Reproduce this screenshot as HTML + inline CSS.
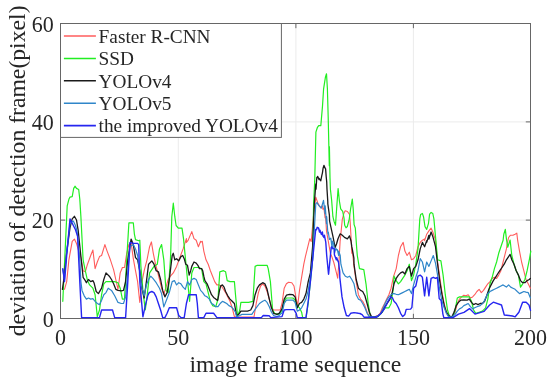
<!DOCTYPE html>
<html><head><meta charset="utf-8"><style>
html,body{margin:0;padding:0;background:#fff;}
svg{display:block;filter:blur(0.3px);font-family:"Liberation Serif","Times New Roman",serif;}
</style></head><body>
<svg width="550" height="382" viewBox="0 0 550 382">
<defs><clipPath id="ax"><rect x="59.0" y="22.0" width="473.00" height="298.00"/></clipPath></defs>
<g stroke="#EBEBEB" stroke-width="1" fill="none"><line x1="178.30" y1="23.5" x2="178.30" y2="318.5"/><line x1="295.90" y1="23.5" x2="295.90" y2="318.5"/><line x1="413.40" y1="23.5" x2="413.40" y2="318.5"/><line x1="60.5" y1="220.10" x2="530.5" y2="220.10"/><line x1="60.5" y1="121.90" x2="530.5" y2="121.90"/></g>
<g stroke="#666" stroke-width="1" fill="none"><line x1="60.50" y1="318.5" x2="60.50" y2="313.8"/><line x1="60.50" y1="23.5" x2="60.50" y2="28.2"/><line x1="178.30" y1="318.5" x2="178.30" y2="313.8"/><line x1="178.30" y1="23.5" x2="178.30" y2="28.2"/><line x1="295.90" y1="318.5" x2="295.90" y2="313.8"/><line x1="295.90" y1="23.5" x2="295.90" y2="28.2"/><line x1="413.40" y1="318.5" x2="413.40" y2="313.8"/><line x1="413.40" y1="23.5" x2="413.40" y2="28.2"/><line x1="530.50" y1="318.5" x2="530.50" y2="313.8"/><line x1="530.50" y1="23.5" x2="530.50" y2="28.2"/><line x1="60.5" y1="318.50" x2="65.2" y2="318.50"/><line x1="530.5" y1="318.50" x2="525.8" y2="318.50"/><line x1="60.5" y1="220.10" x2="65.2" y2="220.10"/><line x1="530.5" y1="220.10" x2="525.8" y2="220.10"/><line x1="60.5" y1="121.90" x2="65.2" y2="121.90"/><line x1="530.5" y1="121.90" x2="525.8" y2="121.90"/><line x1="60.5" y1="23.50" x2="65.2" y2="23.50"/><line x1="530.5" y1="23.50" x2="525.8" y2="23.50"/><rect x="60.5" y="23.5" width="470.00" height="295.00"/></g>
<g clip-path="url(#ax)" fill="none" stroke-linejoin="round" stroke-linecap="round"><polyline points="62.8,289.3 64.5,289.3 66.7,281.6 68.9,259.8 72.2,241.3 74.4,239.1 76.5,243.4 78.7,251.1 80.9,257.6 83.1,270.7 85.3,271.8 87.5,264.2 90.7,255.5 92.9,250.0 95.1,268.6 97.3,262.0 99.5,256.6 101.6,255.5 104.9,244.6 107.1,251.1 110.4,259.8 113.6,269.6 115.8,279.5 118.0,289.3 120.2,272.9 122.4,267.5 124.5,267.5 126.7,253.3 128.9,244.6 131.1,242.4 133.3,258.7 135.5,270.7 137.6,281.6 139.8,302.4 142.0,281.6 144.2,270.7 147.0,259.8 149.6,246.7 151.4,241.9 153.3,253.3 155.5,264.2 157.3,270.7 159.5,279.5 161.6,288.2 163.8,294.7 166.0,287.1 168.2,279.5 170.4,276.2 173.3,272.9 176.6,266.4 179.8,257.6 183.1,248.9 186.4,238.6 186.4,242.4 187.9,240.7 188.6,239.1 191.8,231.6 194.0,238.6 196.2,240.2 198.4,246.7 200.6,241.2 200.6,242.4 202.3,241.3 203.8,251.1 206.0,259.8 208.2,264.2 210.4,270.7 212.6,276.2 214.7,281.6 216.9,284.9 219.1,284.9 221.3,286.0 223.5,289.3 225.6,292.6 227.8,296.9 230.0,301.3 232.2,307.8 234.4,316.6 236.6,317.0 254.0,317.0 256.2,303.5 258.4,292.6 260.6,286.0 262.7,283.8 264.9,286.0 267.1,291.5 269.3,299.1 271.5,307.8 273.6,310.0 276.9,310.0 280.2,310.0 282.0,303.5 284.2,288.2 286.4,283.8 288.6,282.3 291.8,282.7 294.0,286.0 296.2,299.1 297.7,305.6 299.5,290.4 301.6,277.3 303.8,264.2 305.4,256.6 309.8,238.7 311.2,241.5 312.6,226.0 313.6,214.6 315.8,197.1 318.0,203.6 320.2,206.9 320.8,207.9 322.4,205.8 322.9,209.3 323.9,208.0 325.1,217.9 325.6,216.7 326.5,230.9 330.5,254.0 331.8,256.6 333.8,262.5 335.8,270.4 337.7,278.2 339.0,261.2 340.1,241.6 342.3,219.4 343.8,213.6 345.2,210.8 347.4,211.5 349.5,214.3 350.2,222.3 351.0,236.7 351.8,253.3 352.4,251.0 354.0,266.4 356.2,281.6 358.4,294.7 360.6,299.1 362.7,301.3 364.9,305.6 367.1,312.2 369.3,316.6 373.6,317.0 378.0,315.5 380.2,313.3 382.4,307.8 384.6,303.5 386.7,299.1 388.9,294.7 391.1,288.2 393.3,277.3 394.0,275.1 396.2,268.6 398.4,255.5 400.6,246.7 403.2,242.4 404.9,251.1 407.1,255.5 409.3,252.2 411.5,259.8 413.6,258.7 415.8,255.5 418.0,246.7 420.2,242.4 422.4,240.2 424.6,239.1 424.6,240.7 426.7,234.2 428.9,230.9 431.1,228.1 432.8,232.0 435.5,240.2 437.6,262.0 439.8,277.3 442.0,292.6 444.2,303.5 446.4,312.2 448.6,316.6 451.8,317.0 455.1,312.2 457.3,303.5 459.5,299.1 461.6,296.9 463.8,295.2 466.0,295.8 468.2,294.7 470.4,298.0 472.6,296.9 474.7,294.7 476.9,291.5 479.1,289.3 481.3,292.6 483.5,290.4 485.6,287.1 487.8,283.8 490.0,281.6 492.2,278.4 494.4,277.3 496.6,278.4 498.7,275.1 500.9,270.7 503.1,262.0 506.4,248.9 507.5,242.4 508.6,237.5 510.3,235.3 512.9,235.3 515.1,234.2 516.8,233.1 517.7,240.7 519.5,251.1 521.6,262.0 523.8,270.7 526.0,279.5 528.2,283.8 530.4,288.2" stroke="#FF5C5C" stroke-width="1.1"/><polyline points="62.8,301.3 67.2,205.8 68.9,199.3 70.0,197.1 72.2,196.7 73.7,188.4 75.0,186.2 76.5,188.4 78.7,189.5 79.8,199.3 80.9,216.7 83.1,259.8 85.3,270.7 87.5,280.6 89.6,284.9 92.9,288.2 95.1,294.7 97.3,316.6 99.5,310.0 101.6,294.7 103.8,283.8 106.0,281.6 110.4,281.6 114.7,281.6 118.0,282.7 120.2,288.2 122.4,299.1 124.5,299.1 126.7,259.8 128.9,222.8 133.3,222.8 134.4,234.2 135.5,239.6 138.7,240.7 139.8,240.2 140.9,266.4 143.1,292.6 145.3,310.0 147.5,292.6 149.6,272.9 154.0,266.4 157.3,264.2 159.5,248.9 161.6,244.6 163.8,259.8 166.0,290.4 168.2,292.6 170.4,259.8 170.7,253.3 171.8,216.7 173.3,203.2 174.8,216.7 176.1,225.5 178.3,228.1 182.0,228.1 183.5,238.6 189.6,301.3 191.8,272.9 194.0,267.5 198.4,267.5 201.6,268.6 203.8,281.6 206.0,283.8 208.2,292.6 210.4,301.3 212.6,305.6 215.8,306.7 218.0,299.1 219.8,271.8 223.5,270.7 225.6,271.8 227.2,280.6 230.0,281.6 234.4,281.6 235.5,294.7 237.6,316.6 239.8,310.0 240.9,302.4 244.2,302.4 248.6,302.4 252.9,301.3 255.1,266.4 257.3,265.3 261.6,265.3 267.1,265.3 268.2,268.6 270.4,281.6 272.6,310.0 274.7,313.3 278.0,314.4 280.2,313.3 282.0,310.0 284.2,301.3 286.4,298.0 292.9,298.0 295.1,300.2 297.3,305.6 299.5,307.8 301.6,312.2 302.7,317.6 306.0,317.6 308.2,303.5 310.4,281.6 312.6,259.8 313.6,203.6 314.7,181.4 315.9,132.1 317.3,127.7 318.7,125.7 320.8,125.7 322.5,106.1 323.6,88.8 325.4,77.3 326.5,73.8 327.4,88.8 328.2,117.6 329.3,165.7 329.4,146.5 330.0,177.5 330.4,189.2 331.6,199.7 332.9,216.7 334.2,221.9 335.5,225.2 336.8,206.2 338.1,188.5 339.4,201.0 340.7,208.8 342.7,211.4 344.0,218.0 344.7,225.2 346.0,227.8 347.3,226.5 349.2,219.3 350.6,208.8 352.3,199.0 353.2,208.8 354.1,224.6 355.3,228.0 356.7,248.2 357.3,255.5 359.5,268.6 363.8,269.6 366.0,283.8 368.2,303.5 370.4,316.6 373.6,317.0 378.0,316.6 382.4,312.2 384.6,307.8 388.9,307.8 391.1,303.5 393.3,288.2 394.0,276.2 396.2,280.6 398.4,283.8 400.6,281.6 402.7,278.4 404.9,275.1 407.1,270.7 409.3,264.2 411.5,280.6 413.6,275.1 415.8,264.2 418.0,248.9 419.8,218.9 420.6,214.6 422.4,213.5 423.5,216.7 425.0,226.6 426.7,229.4 428.5,223.3 429.6,214.1 431.1,212.4 432.8,213.5 433.9,218.9 437.6,259.8 440.9,260.9 443.1,275.1 445.3,294.7 447.5,310.0 449.6,316.6 452.9,317.0 455.1,310.0 457.3,298.0 459.5,296.9 463.8,296.9 469.3,296.9 471.5,301.3 473.6,310.0 475.8,313.3 479.1,312.2 482.4,311.1 485.6,307.8 487.8,299.1 490.0,283.8 492.2,277.3 494.4,268.6 496.6,262.0 498.7,253.3 500.9,246.7 503.1,240.2 503.8,234.2 505.3,229.4 506.4,238.6 507.7,247.2 510.1,240.0 511.8,255.5 514.0,264.2 516.2,270.7 518.4,275.1 520.5,287.1 522.7,283.8 524.9,279.5 527.1,270.7 529.3,259.8 530.8,251.1" stroke="#22EE22" stroke-width="1.2"/><polyline points="62.4,289.3 64.1,277.3 66.3,255.5 70.0,227.6 72.2,218.9 74.4,216.3 76.5,220.0 78.1,229.8 83.1,277.3 85.3,280.6 86.4,282.7 88.5,279.5 90.7,281.6 92.9,280.6 94.0,282.7 96.2,291.5 98.4,293.6 101.6,288.2 103.8,279.5 106.0,272.9 109.3,276.2 111.5,279.5 113.6,283.8 115.8,289.3 118.0,290.4 121.3,290.8 123.5,290.4 125.6,281.6 127.8,259.8 131.1,239.1 133.3,244.6 135.5,257.6 137.6,259.8 139.8,270.7 142.0,288.2 144.2,298.0 146.4,281.6 148.6,264.2 151.8,260.9 154.0,264.2 156.2,270.7 158.4,271.8 160.6,279.5 162.7,290.4 164.9,296.9 167.1,292.6 169.3,279.5 172.2,255.5 173.3,253.3 174.8,259.8 176.6,258.7 178.7,260.9 180.9,256.6 182.7,255.5 184.2,258.7 185.7,264.2 187.5,265.3 189.2,275.1 190.7,270.7 191.8,266.4 194.0,262.0 196.2,263.1 197.9,265.3 199.5,268.6 201.6,268.6 202.7,270.7 203.8,276.2 204.9,280.6 207.1,283.8 209.3,289.3 211.5,294.7 213.6,297.4 215.8,299.1 217.6,300.4 218.7,295.2 219.3,291.5 220.6,286.0 222.4,284.9 224.1,287.1 225.6,291.5 227.8,295.8 230.0,299.1 232.2,301.3 234.4,303.5 236.6,315.5 238.7,314.4 240.9,311.1 244.2,311.1 247.5,311.1 250.7,310.0 252.9,305.6 255.1,294.7 257.3,288.2 259.5,284.9 262.7,282.7 264.9,283.8 267.1,289.3 269.3,299.1 271.5,307.8 273.6,313.3 276.9,314.4 279.1,313.3 281.3,310.0 282.0,308.9 284.2,299.1 286.4,295.2 289.6,294.3 292.9,294.7 295.1,296.9 297.3,307.8 299.5,303.5 301.6,302.4 303.8,299.1 306.0,293.6 308.2,281.6 310.4,272.9 311.5,259.8 312.6,246.7 314.3,203.6 315.8,184.0 316.0,189.2 316.8,177.5 317.4,177.5 317.6,176.4 319.1,179.6 319.1,178.3 320.7,180.6 320.8,180.7 321.9,175.1 322.4,173.1 323.1,168.1 323.9,165.4 324.1,165.7 325.4,168.8 325.6,168.7 326.2,176.7 326.7,181.8 327.0,189.2 327.8,201.8 327.8,203.6 329.4,215.1 329.6,221.1 330.8,226.6 333.0,236.7 335.1,247.4 336.6,243.8 338.0,238.8 340.2,233.8 342.3,235.2 344.5,237.4 347.4,238.8 349.5,235.9 351.0,241.0 351.8,246.7 352.4,249.6 353.9,258.2 354.0,264.2 356.2,279.5 358.4,288.2 360.6,290.4 362.7,291.5 364.9,295.8 367.1,303.5 369.3,312.2 371.5,316.6 374.7,317.0 378.0,316.1 381.3,313.3 383.5,308.9 385.6,305.6 387.8,302.4 390.0,299.1 392.2,292.6 394.0,283.8 396.2,278.4 398.4,275.1 400.6,272.9 402.7,271.8 404.9,274.0 407.1,268.6 409.3,266.4 411.5,276.2 413.6,268.6 415.8,266.4 418.0,259.8 420.2,248.9 422.4,242.4 424.6,246.7 426.7,240.7 426.7,242.4 428.9,235.3 428.9,239.1 431.1,232.0 432.8,236.4 435.5,246.7 437.6,264.2 439.8,281.6 442.0,294.7 444.2,305.6 446.4,312.2 448.6,315.5 451.8,317.0 454.0,312.2 456.2,305.6 458.4,302.4 460.6,300.2 463.8,299.8 467.1,300.2 469.3,299.1 471.5,302.4 473.6,304.6 475.8,303.5 478.0,304.6 480.2,303.5 482.4,303.5 484.6,301.3 486.7,295.8 488.9,289.3 491.1,284.9 493.3,280.6 495.5,277.3 497.6,274.0 499.8,270.7 502.0,267.5 504.2,264.2 506.4,259.8 508.6,256.6 510.1,254.4 511.8,259.8 514.0,264.2 516.2,270.7 518.4,275.1 520.5,280.6 522.7,282.7 524.9,282.7 527.1,280.6 529.3,279.5 530.4,278.4" stroke="#1a1a1a" stroke-width="1.3"/><polyline points="62.8,269.6 64.5,279.5 66.7,251.1 70.0,223.3 73.3,221.1 75.5,225.5 77.2,232.0 79.8,259.8 80.9,281.6 82.0,290.4 84.2,295.8 86.4,299.1 88.5,298.0 90.7,299.1 92.9,298.7 95.1,301.3 97.3,303.5 99.5,304.6 101.6,300.2 103.8,294.7 106.0,292.6 108.2,288.2 111.5,290.4 114.7,295.8 118.0,302.4 121.3,303.5 123.5,303.5 125.6,296.9 127.8,270.7 130.0,246.7 133.3,244.6 135.5,248.9 137.6,255.5 139.8,272.9 142.0,288.2 144.2,295.8 146.4,284.9 148.6,279.5 150.7,276.2 152.9,278.4 156.2,282.7 159.5,288.2 161.6,293.6 163.8,306.9 166.4,300.2 169.3,292.6 172.2,281.6 174.4,280.6 176.6,284.9 178.7,282.7 180.9,283.8 183.1,287.1 185.3,289.3 187.5,281.6 189.6,284.9 191.8,279.5 194.0,278.4 196.2,279.5 198.4,284.9 200.6,290.4 202.7,292.6 204.9,295.8 207.1,296.9 209.3,299.1 211.5,303.5 213.6,304.6 215.8,306.7 218.0,306.7 220.2,303.5 222.4,301.3 224.6,302.4 226.7,303.5 228.9,305.6 231.1,306.7 233.3,308.9 235.5,312.2 236.6,316.6 239.8,315.5 242.0,314.4 248.6,314.4 251.8,314.4 254.0,311.1 256.2,307.8 259.5,303.5 262.7,301.3 264.9,300.2 267.1,302.4 269.3,306.7 271.5,312.2 273.6,315.5 276.9,316.6 279.1,315.5 281.3,313.3 282.0,313.3 284.2,303.5 286.4,300.2 292.9,300.2 295.1,302.4 297.3,311.1 299.5,310.0 301.6,307.8 303.8,303.5 306.0,299.1 308.2,290.4 310.4,277.3 312.6,259.8 315.8,203.6 316.9,202.6 319.1,205.8 321.3,208.0 323.5,200.4 325.1,213.6 325.2,205.8 326.5,223.7 326.7,216.7 327.9,233.8 328.3,232.0 329.4,239.5 330.8,238.1 332.2,248.9 332.3,241.0 333.7,243.8 334.4,253.3 335.9,248.2 336.6,250.0 337.3,249.6 338.7,255.5 338.7,251.0 340.2,255.4 340.9,264.2 343.1,272.9 345.3,276.2 347.5,277.3 349.6,276.2 351.8,279.5 354.0,283.8 356.2,294.7 358.4,299.1 360.6,300.2 362.7,303.5 364.9,307.8 367.1,313.3 369.3,316.6 375.8,317.0 380.2,314.4 382.4,310.0 384.6,304.6 386.7,300.2 388.9,296.9 391.1,294.7 393.3,293.6 394.0,293.6 396.2,294.3 398.4,294.7 400.6,293.6 402.7,292.6 404.9,291.5 407.1,290.4 409.3,289.3 411.5,293.6 413.6,284.9 415.8,277.3 418.0,270.7 420.2,258.7 422.4,262.0 424.6,271.8 426.7,262.0 428.9,266.4 431.1,260.9 433.3,255.5 435.5,263.1 437.6,275.1 439.8,290.4 442.0,301.3 444.2,307.8 446.4,313.3 448.6,316.6 451.8,317.0 455.1,314.4 457.3,311.1 459.5,308.9 461.6,307.8 463.8,305.6 466.0,304.6 468.2,303.5 470.4,306.7 472.6,308.9 474.7,307.8 476.9,306.7 480.2,305.6 483.5,302.4 485.6,298.0 487.8,293.6 490.0,291.5 492.2,290.4 494.4,289.3 496.6,288.2 498.7,287.1 500.9,286.0 503.1,284.9 506.4,287.1 508.6,284.9 510.7,287.1 512.9,288.2 515.1,289.3 517.3,291.5 519.5,293.6 521.6,292.6 523.8,291.5 526.0,292.1 528.2,292.6 530.4,298.0" stroke="#2F86C9" stroke-width="1.2"/><polyline points="62.8,268.6 64.5,281.6 66.7,255.5 70.0,218.9 72.2,223.3 75.5,229.8 77.6,236.4 79.8,281.6 81.6,317.6 99.5,317.6 101.6,310.0 112.5,310.0 114.7,317.6 125.6,317.6 127.8,281.6 130.0,242.4 133.3,243.4 137.6,243.4 138.7,244.6 139.8,281.6 142.9,316.8 145.1,306.7 147.7,295.8 149.2,292.6 151.8,291.5 154.0,292.6 156.2,296.9 158.4,303.5 160.6,310.0 162.7,317.6 164.9,317.6 167.1,313.3 169.3,307.8 176.6,307.8 178.7,315.5 180.9,317.6 184.2,317.6 186.4,303.5 188.6,294.7 196.2,294.7 197.3,303.5 198.4,317.6 203.8,317.6 206.0,313.3 213.6,313.3 216.9,317.6 235.5,317.6 261.4,317.6 263.2,315.5 269.1,315.7 270.8,317.6 282.0,316.6 284.2,310.0 286.4,309.6 294.0,309.6 296.2,313.3 297.3,317.6 306.0,317.6 308.2,301.3 310.4,281.6 312.6,259.8 315.7,229.5 316.5,229.8 317.2,227.3 318.0,227.6 318.6,228.0 319.5,232.0 320.0,230.2 321.3,234.2 321.5,234.5 322.4,232.0 322.9,235.9 323.9,237.5 324.4,235.2 325.8,242.4 326.7,255.5 328.5,274.0 328.6,274.3 330.0,259.8 331.2,247.4 331.8,246.7 332.5,248.1 334.4,248.9 334.4,254.7 336.4,259.9 336.6,257.6 338.3,262.0 338.4,261.2 339.7,271.7 339.8,277.3 342.0,296.9 344.2,307.8 346.4,315.5 348.6,316.1 350.7,313.3 354.0,312.6 358.4,313.3 359.9,313.5 362.1,314.6 364.0,317.2 376.7,317.2 380.8,313.5 384.1,309.4 388.3,300.8 390.9,296.9 392.4,297.8 394.0,301.3 396.2,303.5 398.4,307.8 400.6,313.3 402.7,316.6 404.9,314.4 406.2,309.4 410.6,309.1 411.9,307.4 412.3,302.8 413.0,294.9 413.6,288.2 415.8,286.0 418.0,276.2 420.2,275.1 422.4,277.3 424.6,295.8 426.7,277.3 428.9,295.8 431.1,278.4 433.3,277.3 435.5,278.4 437.4,277.5 439.2,298.5 441.1,300.5 442.9,314.1 443.8,317.6 453.0,317.6 458.5,314.1 464.0,312.3 469.5,308.6 475.0,314.1 484.1,311.4 489.6,305.0 493.3,302.2 501.5,305.0 504.3,315.0 512.5,316.0 515.2,316.8 518.9,312.3 522.6,302.2 526.2,302.2 529.0,305.0 530.5,310.4" stroke="#2626F0" stroke-width="1.4"/></g>
<g fill="none"><rect x="60.5" y="23.5" width="220.90" height="113.90" fill="#fff" stroke="#666" stroke-width="1"/></g>
<g fill="#262626"><line x1="63.9" y1="36.0" x2="95.9" y2="36.0" stroke="#FF5C5C" stroke-width="1.35"/><text x="98.6" y="42.7" font-size="19.3">Faster R-CNN</text><line x1="63.9" y1="58.4" x2="95.9" y2="58.4" stroke="#22EE22" stroke-width="1.45"/><text x="98.6" y="65.1" font-size="19.3">SSD</text><line x1="63.9" y1="80.8" x2="95.9" y2="80.8" stroke="#1a1a1a" stroke-width="1.55"/><text x="98.6" y="87.5" font-size="19.3">YOLOv4</text><line x1="63.9" y1="103.2" x2="95.9" y2="103.2" stroke="#2F86C9" stroke-width="1.45"/><text x="98.6" y="109.9" font-size="19.3">YOLOv5</text><line x1="63.9" y1="125.6" x2="95.9" y2="125.6" stroke="#2626F0" stroke-width="1.65"/><text x="98.6" y="132.3" font-size="19.3">the improved YOLOv4</text></g>
<g fill="#262626"><text transform="translate(60.50,345.4) scale(1,1.04)" text-anchor="middle" font-size="22">0</text><text transform="translate(178.30,345.4) scale(1,1.04)" text-anchor="middle" font-size="22">50</text><text transform="translate(295.90,345.4) scale(1,1.04)" text-anchor="middle" font-size="22">100</text><text transform="translate(413.40,345.4) scale(1,1.04)" text-anchor="middle" font-size="22">150</text><text transform="translate(530.50,345.4) scale(1,1.04)" text-anchor="middle" font-size="22">200</text><text transform="translate(53.8,326.60) scale(1,1.04)" text-anchor="end" font-size="22">0</text><text transform="translate(53.8,228.20) scale(1,1.04)" text-anchor="end" font-size="22">20</text><text transform="translate(53.8,130.00) scale(1,1.04)" text-anchor="end" font-size="22">40</text><text transform="translate(53.8,31.60) scale(1,1.04)" text-anchor="end" font-size="22">60</text><text x="295.4" y="372.3" text-anchor="middle" font-size="23.7">image frame sequence</text><text transform="translate(25.3,170.9) rotate(-90)" text-anchor="middle" font-size="23.7">deviation of detection frame(pixel)</text></g>
</svg>
</body></html>
